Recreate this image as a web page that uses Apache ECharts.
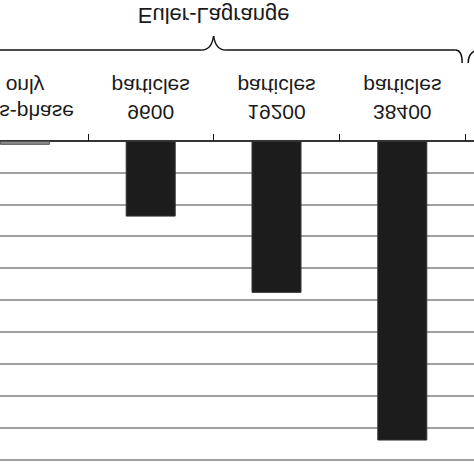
<!DOCTYPE html>
<html><head><meta charset="utf-8">
<script src="https://cdn.jsdelivr.net/npm/echarts@6/dist/echarts.min.js"></script>
<style>html,body{margin:0;padding:0;background:#fff;overflow:hidden;width:474px;height:474px;}#c{width:629px;height:474px;margin-left:-38px;transform:scaleY(-1);}</style>
</head><body><div id="c"></div>
<script>
const categories = ["gas-phase\nonly", "9600\nparticles", "19200\nparticles", "38400\nparticles", ""];
const values = [0.12, 2.37, 4.76, 9.39, null];
const barColors = ["#8c8c8c", "#1c1c1c", "#1c1c1c", "#1c1c1c", "#1c1c1c"];
const groupLabel = "Euler-Lagrange";
const yMin = 0, yMax = 10, yStep = 1;

const chart = echarts.init(document.getElementById('c'), null, {renderer: 'svg'});
const font = '"Liberation Sans", Arial, sans-serif';
chart.setOption({
  animation: false,
  backgroundColor: '#fff',
  grid: {left: 0, right: 0, top: 14, bottom: 141, containLabel: false},
  xAxis: {
    type: 'category', data: categories, boundaryGap: true,
    axisLine: {lineStyle: {color: '#111', width: 1.5}},
    axisTick: {show: true, length: 7, lineStyle: {color: '#111', width: 1}},
    axisLabel: {fontFamily: font, fontSize: 21, color: '#1a1a1a', lineHeight: 26, margin: 16, interval: 0}
  },
  yAxis: {
    type: 'value', min: yMin, max: yMax, interval: yStep,
    axisLine: {show: false}, axisTick: {show: false}, axisLabel: {show: false},
    splitLine: {lineStyle: {color: '#808080', width: 1.5}}
  },
  series: [{
    type: 'bar', barWidth: 50,
    data: values.map((v, i) => ({value: v, itemStyle: {color: barColors[i], borderColor: i === 0 ? '#555' : '#333', borderWidth: 1}}))
  }]
});

const step = chart.convertToPixel({xAxisIndex: 0}, 1) - chart.convertToPixel({xAxisIndex: 0}, 0);
const b0 = chart.convertToPixel({xAxisIndex: 0}, 0) - step / 2;
const b4 = chart.convertToPixel({xAxisIndex: 0}, 3) + step / 2;
const mid = (b0 + b4) / 2;
const yLine = 424, yEnd = 411, yTip = 438;
const st = {stroke: '#111', lineWidth: 1.5, fill: null};
chart.setOption({
  graphic: [
    {type: 'bezierCurve', shape: {x1: b0 - 3, y1: yEnd, x2: b0 + 10, y2: yLine, cpx1: b0 - 3, cpy1: yLine}, style: st},
    {type: 'line', shape: {x1: b0 + 10, y1: yLine, x2: mid - 12, y2: yLine}, style: st},
    {type: 'bezierCurve', shape: {x1: mid - 12, y1: yLine, x2: mid, y2: yTip, cpx1: mid - 2, cpy1: yLine}, style: st},
    {type: 'bezierCurve', shape: {x1: mid, y1: yTip, x2: mid + 12, y2: yLine, cpx1: mid + 2, cpy1: yLine}, style: st},
    {type: 'line', shape: {x1: mid + 12, y1: yLine, x2: b4 - 10, y2: yLine}, style: st},
    {type: 'bezierCurve', shape: {x1: b4 - 10, y1: yLine, x2: b4 - 3, y2: yEnd, cpx1: b4 - 3, cpy1: yLine}, style: st},
    {type: 'bezierCurve', shape: {x1: b4 + 3, y1: yEnd, x2: b4 + 16, y2: yLine, cpx1: b4 + 3, cpy1: yLine}, style: st},
    {type: 'line', shape: {x1: b4 + 16, y1: yLine, x2: b4 + 80, y2: yLine}, style: st},
    {type: 'text', x: mid, y: 459, style: {text: groupLabel, font: '22px ' + font, fill: '#1a1a1a', align: 'center', verticalAlign: 'middle'}}
  ]
});
</script></body></html>
